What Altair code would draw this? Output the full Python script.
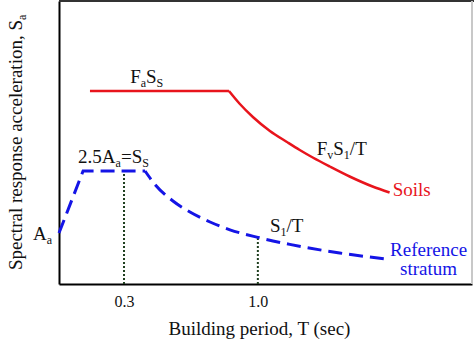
import altair as alt
import pandas as pd

# ---- data (T in s, Sa in arbitrary g units) ----
T_blue = [-0.04, 0.086, 0.41, 0.46, 0.556, 0.645, 0.75, 0.854, 1.0, 1.167, 1.428, 1.674]
Sa_blue = [0.255, 0.565, 0.565, 0.50, 0.415, 0.36, 0.31, 0.271, 0.233, 0.198, 0.155, 0.125]
BLUE_CORNER = 2  # index where the plateau ends and the 1/T branch begins

T_red = [0.122, 0.849, 0.906, 0.974, 1.063, 1.152, 1.219, 1.287, 1.376, 1.48, 1.60, 1.689]
Sa_red = [0.965, 0.965, 0.90, 0.835, 0.765, 0.71, 0.67, 0.6325, 0.5875, 0.5375, 0.4875, 0.4575]
RED_CORNER = 1

tick_values = [0.3, 1.0]
guide_T = [0.3, 1.0]
guide_top = [0.565, 0.233]

X_DOMAIN = [-0.04, 2.12]
Y_DOMAIN = [0, 1.415]

RED = "#e8141c"
BLUE = "#1414e6"
GREEN = "#1f3f1f"
FONT = "Liberation Serif"

W, H = 413, 283

# glyph widths (Times metrics, per 1000 em)
GW = {'F': 556, 'a': 444, 'S': 556, '2': 500, '.': 250, '5': 500, 'A': 722,
      '=': 564, 'v': 500, '1': 500, '/': 278, 'T': 611}


def tw(s, size):
    return sum(GW.get(c, 500) for c in s) * size / 1000.0


xs = alt.Scale(domain=X_DOMAIN, nice=False, zero=False)
ys = alt.Scale(domain=Y_DOMAIN, nice=False, zero=False)
x_axis = alt.Axis(values=tick_values, format=".1f", title="Building period, T (sec)",
                  grid=False, ticks=False, domainColor="#000", domainWidth=2,
                  labelFont=FONT, labelFontSize=16, labelColor="#111",
                  labelBaseline="alphabetic", labelPadding=22,
                  titleFont=FONT, titleFontSize=19, titleFontWeight="normal",
                  titleColor="#111", titleX=200, titleY=50,
                  titleBaseline="alphabetic", titleAlign="center")
y_axis = alt.Axis(labels=False, ticks=False, title=None, grid=False,
                  domainColor="#000", domainWidth=2)


def enc(ch):
    return ch.encode(x=alt.X("T:Q", scale=xs, axis=x_axis),
                     y=alt.Y("Sa:Q", scale=ys, axis=y_axis))


blue_lin = pd.DataFrame({"T": T_blue[:BLUE_CORNER + 1], "Sa": Sa_blue[:BLUE_CORNER + 1]})
blue_dec = pd.DataFrame({"T": T_blue[BLUE_CORNER:], "Sa": Sa_blue[BLUE_CORNER:]})
red_lin = pd.DataFrame({"T": T_red[:RED_CORNER + 1], "Sa": Sa_red[:RED_CORNER + 1]})
red_dec = pd.DataFrame({"T": T_red[RED_CORNER:], "Sa": Sa_red[RED_CORNER:]})
guide_df = pd.DataFrame({"T": guide_T, "lo": [0] * len(guide_T), "hi": guide_top})

blue1 = enc(alt.Chart(blue_lin).mark_line(color=BLUE, strokeWidth=3, strokeDash=[14, 7]))
blue2 = enc(alt.Chart(blue_dec).mark_line(color=BLUE, strokeWidth=3, strokeDash=[14, 7],
                                          strokeDashOffset=4, interpolate="monotone"))
red1 = enc(alt.Chart(red_lin).mark_line(color=RED, strokeWidth=2.5))
red2 = enc(alt.Chart(red_dec).mark_line(color=RED, strokeWidth=2.5, interpolate="monotone"))
guides = alt.Chart(guide_df).mark_rule(color=GREEN, strokeWidth=2, strokeDash=[2, 2]).encode(
    x=alt.X("T:Q", scale=xs, axis=x_axis), y=alt.Y("lo:Q", scale=ys, axis=y_axis), y2="hi:Q")

# annotation labels: (anchor T, anchor Sa, pieces[(text, size, dy)], color)
labels = [
    (0.332, 1.005, [("F", 19, 0), ("a", 12, 4), ("S", 19, 0), ("S", 12, 4)], "#111"),
    (0.06, 0.605, [("2.5A", 19, 0), ("a", 12, 4), ("=S", 19, 0), ("S", 12, 4)], "#111"),
    (-0.176, 0.22, [("A", 19, 0), ("a", 12, 4)], "#111"),
    (1.308, 0.645, [("F", 19, 0), ("v", 12, 4), ("S", 19, 0), ("1", 12, 4), ("/T", 19, 0)], "#111"),
    (1.063, 0.26, [("S", 19, 0), ("1", 12, 4), ("/T", 19, 0)], "#111"),
]

layers = [guides, red1, red2, blue1, blue2]
for t0, s0, pieces, col in labels:
    dx = 0.0
    for txt, size, dy in pieces:
        d = pd.DataFrame({"T": [t0], "Sa": [s0], "txt": [txt]})
        layers.append(enc(alt.Chart(d).mark_text(
            align="left", baseline="alphabetic", font=FONT, fontSize=size,
            color=col, dx=dx, dy=dy)).encode(text="txt:N"))
        dx += tw(txt, size)

# curve labels
curve_label_T = [1.705, 1.893, 1.893]
curve_label_Sa = [0.44, 0.14, 0.045]
curve_label_text = ["Soils", "Reference", "stratum"]
curve_label_color = [RED, BLUE, BLUE]
curve_label_align = ["left", "center", "center"]
for t0, s0, txt, col, al in zip(curve_label_T, curve_label_Sa, curve_label_text,
                                curve_label_color, curve_label_align):
    d = pd.DataFrame({"T": [t0], "Sa": [s0], "txt": [txt]})
    layers.append(enc(alt.Chart(d).mark_text(
        align=al, baseline="alphabetic", font=FONT, fontSize=19, color=col)).encode(text="txt:N"))

# y-axis title (rotated, with subscript)
ytitle_main = alt.Chart(pd.DataFrame({"txt": ["Spectral response acceleration, S"]})).mark_text(
    angle=270, align="right", baseline="alphabetic", font=FONT, fontSize=19, color="#111").encode(
    x=alt.value(-37), y=alt.value(19), text="txt:N")
ytitle_sub = alt.Chart(pd.DataFrame({"txt": ["a"]})).mark_text(
    angle=270, align="left", baseline="alphabetic", font=FONT, fontSize=12, color="#111").encode(
    x=alt.value(-33), y=alt.value(19), text="txt:N")
layers += [ytitle_main, ytitle_sub]

# frame: top and right edges
top_edge = alt.Chart(pd.DataFrame({"k": [0]})).mark_rule(color="#333", strokeWidth=2).encode(
    x=alt.value(0), x2=alt.value(W + 2), y=alt.value(0))
right_edge = alt.Chart(pd.DataFrame({"k": [0]})).mark_rule(color="#c8c8c8", strokeWidth=2).encode(
    x=alt.value(W), y=alt.value(0), y2=alt.value(H))
layers += [top_edge, right_edge]

chart = alt.layer(*layers).properties(
    width=W, height=H,
    padding={"left": 59, "top": 1, "right": 2, "bottom": 57},
    autosize=alt.AutoSizeParams(type="none"),
    background="white",
).configure_view(stroke=None)

chart.save("out.html", embed_options={"renderer": "svg", "actions": False})
